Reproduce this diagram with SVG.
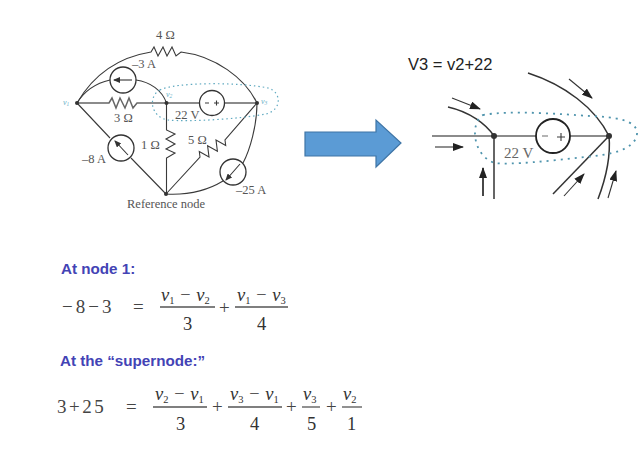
<svg xmlns="http://www.w3.org/2000/svg" width="638" height="453" viewBox="0 0 638 453">
<style>
.w{fill:none;stroke:#3a3a3a;stroke-width:1.1}
.w2{fill:none;stroke:#333;stroke-width:1.5}
.g{fill:none;stroke:#666;stroke-width:1.5}
.src{fill:#fff;stroke:#333;stroke-width:1.3}
.src2{fill:#fff;stroke:#222;stroke-width:1.8}
.dot{fill:#333}
.sn{fill:none;stroke:#5fa9c0;stroke-width:1.2;stroke-dasharray:1.5 3}
.sn2{fill:none;stroke:#4f94ad;stroke-width:1.8;stroke-dasharray:2 5}
.a{fill:none;stroke:#333;stroke-width:1.1;marker-end:url(#ah)}
.a2{fill:none;stroke:#333;stroke-width:1.1;marker-end:url(#ah2)}
text{font-family:"Liberation Serif",serif;fill:#555}
.c{font-size:12.5px}
.n{font-size:8px;fill:#6ab0c8;font-style:italic}
.h{font-family:"Liberation Sans",sans-serif;font-size:15.2px;font-weight:bold;fill:#4343b5}
.m{font-size:19px;fill:#444}
.f{font-size:18.5px;fill:#333}
.i{font-style:italic}
.s{font-size:10.5px;font-style:normal}
.bar{stroke:#555;stroke-width:1.3}
</style>
<defs>
<marker id="ah" markerWidth="7" markerHeight="6" refX="6" refY="3" orient="auto" markerUnits="userSpaceOnUse"><path d="M0 0L7 3L0 6z" fill="#333"/></marker>
<marker id="ah2" markerWidth="11" markerHeight="8" refX="10" refY="4" orient="auto" markerUnits="userSpaceOnUse"><path d="M0 0L11 4L0 8z" fill="#222"/></marker>
</defs>
<g id="connectors">
<path class="w" d="M77 103C95 72 120 57 151 52L154 47L158 56L163 47L167 56L172 47L176 56L181 52C215 56 245 78 257 103"/>
<path class="w" d="M77 103C85 90 97 83 110 80M136 80C150 82 162 90 166.500 103"/>
<path class="g" d="M77 103H109L112 98L116 108L120 98L125 108L129 98L133 108L137 103H166.500H200M224 103H257"/>
<path class="w" d="M77 103L110 138M131 158L166 194"/>
<path class="w" d="M166.500 103V130L175 134L166 139L175 144L166 149L175 153L166.500 158V194"/>
<path class="w" d="M166 194L200 157L199.300 151.500L209 156.900L207.600 145.800L217.400 151.200L216 140L225.700 145.500L225 140L257 103"/>
<path class="w" d="M257 103C257 125 250 150 243 163M223 181C205 192 185 195 166 194"/>
</g>
<g id="supernode-left"><path class="sn" d="M160 90C175 82 240 82 268 88C282 92 282 110 266 114C240 119 190 122 168 120C150 117 148 96 160 90z"/></g>
<g id="v1"><circle class="dot" cx="77" cy="103" r="2"/><text class="n" x="63" y="105">v<tspan font-size="5.500" dy="1">1</tspan></text></g>
<g id="v2"><circle class="dot" cx="166.500" cy="103" r="2"/><text class="n" x="166" y="97">v<tspan font-size="5.500" dy="1">2</tspan></text></g>
<g id="v3"><circle class="dot" cx="257" cy="103" r="2"/><text class="n" x="261" y="104">v<tspan font-size="5.500" dy="1">3</tspan></text></g>
<g id="ref"><circle class="dot" cx="166" cy="194" r="2"/><text class="c" x="127" y="208" style="font-size:12.500px">Reference node</text></g>
<g id="r4"><text class="c" x="156" y="39">4 Ω</text></g>
<g id="r3"><text class="c" x="114" y="122">3 Ω</text></g>
<g id="r1"><text class="c" x="141" y="149">1 Ω</text></g>
<g id="r5"><text class="c" x="188" y="144">5 Ω</text></g>
<g id="i3"><circle class="src" cx="123" cy="80" r="13"/><path class="a" d="M132 80H114"/><text class="c" x="132" y="68">–3 A</text></g>
<g id="i8"><circle class="src" cx="121" cy="148" r="13"/><path class="a" d="M128 155L115 141"/><text class="c" x="82" y="163">–8 A</text></g>
<g id="i25"><circle class="src" cx="233" cy="172" r="13"/><path class="a" d="M240 164L226 180"/><text class="c" x="236" y="194">–25 A</text></g>
<g id="v22"><circle class="src" cx="212" cy="103" r="12.500"/><path class="w" d="M205 103H209M214 103H219M216.500 100.500V105.500"/><text class="c" x="175" y="119">22 V</text></g>
<g id="arrow"><path d="M305 132H376V120L401 143L376 167V156H305z" fill="#5b9bd5" stroke="#3f75a6" stroke-width="1.2"/></g>
<text x="408" y="70" style="font-family:'Liberation Sans',sans-serif;font-size:16.500px;fill:#222">V3 = v2+22</text>
<g id="detail-connectors">
<path class="g" d="M432 136H536M570 136H609"/>
<path class="w2" d="M448 107C470 112 486 124 494 136"/>
<path class="w2" d="M528 73C565 85 595 108 609 136"/>
<path class="w2" d="M494 136V199"/>
<path class="w2" d="M609 136L553 194"/>
<path class="w2" d="M609 136C611 158 606 178 598 199"/>
<path class="a2" d="M452 98L480 109"/>
<path class="a2" d="M569 79L592 98"/>
<path class="a2" d="M435 147H463"/>
<path d="M483 196V168" class="a2" style="stroke-width:1.800"/>
<path class="a2" d="M564 196L584 174"/>
<path class="a2" d="M608 198L616 171"/>
</g>
<g id="detail-supernode"><path class="sn2" d="M483 115C510 110 560 114 590 116C615 117 638 120 637 134C635 150 610 155 585 157C550 161 510 165 495 163C472 156 470 122 483 115z"/></g>
<g id="detail-v2"><circle class="dot" cx="494" cy="136" r="3"/></g>
<g id="detail-v3"><circle class="dot" cx="609" cy="136" r="3"/></g>
<g id="detail-source"><circle class="src2" cx="553" cy="136" r="17"/><path class="w" style="stroke:#777" d="M542 136H548"/><path class="w" d="M557 137H565M561 133V141"/><text x="504" y="158" style="font-size:15px;fill:#666">22 V</text></g>
<g id="eq1">
<text class="h" x="61" y="274">At node 1:</text>
<text class="m" x="62" y="313" style="letter-spacing:3px">−8−3</text><text class="m" x="133" y="313">=</text>
<text class="f i" x="161" y="301">v<tspan class="s" dy="3">1</tspan><tspan dy="-3"> − v</tspan><tspan class="s" dy="3">2</tspan></text>
<line class="bar" x1="160" y1="307" x2="215" y2="307"/><text class="f" x="183" y="330">3</text>
<text class="m" x="219" y="314">+</text>
<text class="f i" x="237" y="301">v<tspan class="s" dy="3">1</tspan><tspan dy="-3"> − v</tspan><tspan class="s" dy="3">3</tspan></text>
<line class="bar" x1="235" y1="307" x2="288" y2="307"/><text class="f" x="257" y="330">4</text>
</g>
<g id="eq2">
<text class="h" x="60" y="366">At the “supernode:”</text>
<text class="m" x="57" y="413" style="letter-spacing:2.500px">3+25</text><text class="m" x="126" y="413">=</text>
<text class="f i" x="155" y="400">v<tspan class="s" dy="3">2</tspan><tspan dy="-3"> − v</tspan><tspan class="s" dy="3">1</tspan></text>
<line class="bar" x1="153" y1="407" x2="207" y2="407"/><text class="f" x="176" y="430">3</text>
<text class="m" x="212" y="413">+</text>
<text class="f i" x="230" y="400">v<tspan class="s" dy="3">3</tspan><tspan dy="-3"> − v</tspan><tspan class="s" dy="3">1</tspan></text>
<line class="bar" x1="228" y1="407" x2="282" y2="407"/><text class="f" x="250" y="430">4</text>
<text class="m" x="286" y="413">+</text>
<text class="f i" x="303" y="400">v<tspan class="s" dy="3">3</tspan></text>
<line class="bar" x1="302" y1="407" x2="320" y2="407"/><text class="f" x="307" y="430">5</text>
<text class="m" x="326" y="413">+</text>
<text class="f i" x="343" y="400">v<tspan class="s" dy="3">2</tspan></text>
<line class="bar" x1="342" y1="407" x2="362" y2="407"/><text class="f" x="347" y="430">1</text>
</g>
</svg>
